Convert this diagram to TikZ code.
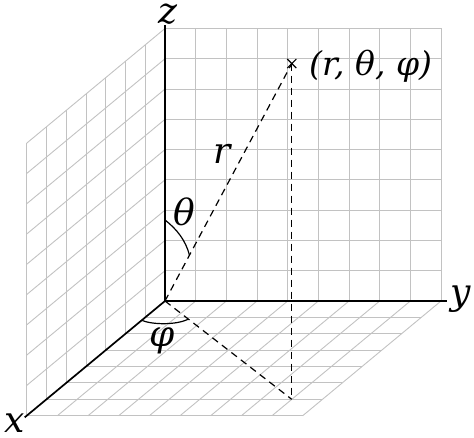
\documentclass[tikz,border=0pt]{standalone}
\usepackage{fontspec}
\setmainfont{DejaVu Serif}
\usetikzlibrary{calc,shapes.misc}
\begin{document}
\begin{tikzpicture}[x={(-19.76pt,-16.39pt)}, y={(30.67pt,0pt)}, z={(0pt,30.28pt)},
  gridline/.style={draw=black!24, line width=0.9pt},
  axis/.style={line width=1.7pt, black},
  dashline/.style={line width=1.2pt, dash pattern=on 7pt off 5pt},
  arcline/.style={line width=1.2pt},
  lbl/.style={inner sep=0pt, font=\itshape\fontsize{36}{42}\selectfont},
  tup/.style={inner sep=0pt, font=\itshape\fontsize{33}{38}\selectfont}]
\useasboundingbox (-165pt,-137pt) rectangle (309pt,301pt);
% grids
\foreach \i in {1,...,9} {
  \draw[gridline] (0,\i,0) -- (0,\i,9);
  \draw[gridline] (0,0,\i) -- (0,9,\i);
  \draw[gridline] (0,0,\i) -- (7,0,\i);
  \draw[gridline] (0,\i,0) -- (7,\i,0);
}
\foreach \i in {1,...,7} {
  \draw[gridline] (\i,0,0) -- (\i,0,9);
  \draw[gridline] (\i,0,0) -- (\i,9,0);
}
% coordinates
\coordinate (O) at (0,0,0);
\coordinate (X) at (7.1,0,0);
\coordinate (Y) at (0,9.2,0);
\coordinate (Z) at (0,0,9.12);
\coordinate (P) at (6,8,11.09);
\coordinate (Q) at (6,8,0);
% axes
\draw[axis] (O) -- (X);
\draw[axis] (O) -- (Y);
\draw[axis] (O) -- (Z);
% dashed lines
\draw[dashline] (O) -- (P);
\draw[dashline] (P) -- (Q);
\draw[dashline] (O) -- (Q);
% angle arcs
\coordinate (thS) at (0,0,2.675);
\coordinate (thE) at ($(O)!0.193!(P)$);
\draw[arcline] (thS) .. controls (11.9pt,71.8pt) and (20.7pt,60.5pt) .. (thE);
\coordinate (phS) at (1.18,0,0);
\coordinate (phE) at ($(O)!0.184!(Q)$);
\draw[arcline] (phS) .. controls (-12pt,-24pt) and (12pt,-24pt) .. (phE);
% point mark
\node[cross out, draw, line width=1.1pt, minimum size=8pt, inner sep=0pt] (Pm) at (P) {};
% labels
\node[lbl] (zl) at (3pt,287pt) {z};
\node[lbl] (yl) at (296pt,2pt) {y};
\node[lbl] (xl) at (-150.5pt,-122pt) {x};
\node[lbl] (rl) at (57pt,147pt) {r};
\node[lbl] (thl) at (19.3pt,89.3pt) {θ};
\node[lbl] (phl) at (-2.5pt,-40pt) {φ};
\node[tup, anchor=west] (pl) at (144pt,234.5pt) {(r, θ, φ)};
\end{tikzpicture}
\end{document}
